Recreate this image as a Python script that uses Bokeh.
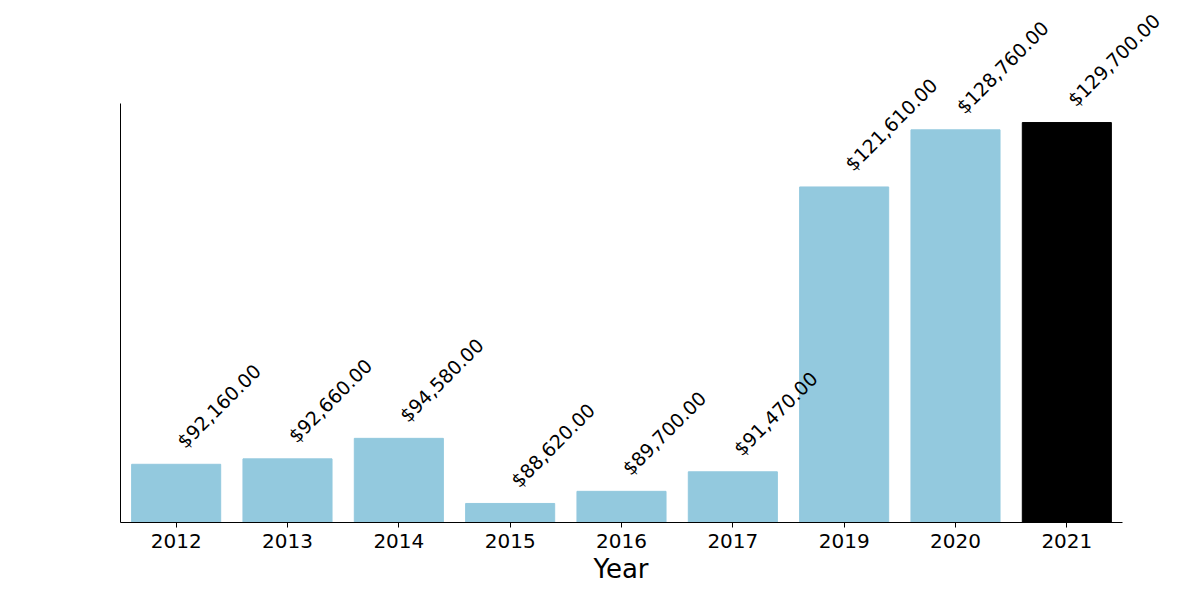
import math
from bokeh.plotting import figure
from bokeh.models import Range1d, ColumnDataSource, FixedTicker, Title
from bokeh.core.properties import value
from bokeh.embed import file_html
from bokeh.resources import INLINE

years = ["2012", "2013", "2014", "2015", "2016", "2017", "2019", "2020", "2021"]
salaries = [92160, 92660, 94580, 88620, 89700, 91470, 121610, 128760, 129700]
highlight_year = "2021"
x_title = "Year"

base_color = "#93C9DE"
hi_color = "#000000"
colors = [hi_color if y == highlight_year else base_color for y in years]
labels = ["${:,.2f}".format(v) for v in salaries]
xpos = list(range(len(years)))

# layout (pixels)
W, H = 1192, 592
LEFT, BOTTOM_BORDER, TOP_BORDER = 120, 70, 2
AXES_W, AXES_H = 1002, 419   # size of the drawn axes box

lo, hi = min(salaries), max(salaries)
span = math.log(hi / lo)
y_start = lo * math.exp(-0.05 * span)
y_axis_end = hi * math.exp(0.05 * span)
frame_h = H - BOTTOM_BORDER - TOP_BORDER
y_end = y_start * math.exp(1.1 * span * frame_h / AXES_H)

n = len(years)
x_start = -0.5
x_axis_end = n - 0.5
frame_w = W - LEFT
x_end = x_start + n * frame_w / AXES_W

src = ColumnDataSource(dict(x=xpos, top=salaries, color=colors, label=labels,
                            bottom=[1.0] * n))

p = figure(width=W, height=H, y_axis_type="log",
           x_range=Range1d(x_start, x_end), y_range=Range1d(y_start, y_end),
           output_backend="svg", toolbar_location=None,
           min_border_left=LEFT, min_border_right=0,
           min_border_top=TOP_BORDER, min_border_bottom=BOTTOM_BORDER)

p.vbar(x="x", top="top", bottom="bottom", width=0.8, color="color", source=src)

p.text(x="x", y="top", text="label", source=src, angle=math.pi / 4,
       text_align="left", text_baseline="bottom",
       x_offset=12, y_offset=-12,
       text_font=value("DejaVu Sans"), text_font_size="19px", text_color="#000000")

p.outline_line_color = None
p.xgrid.grid_line_color = None
p.ygrid.grid_line_color = None

xa = p.xaxis[0]
xa.ticker = FixedTicker(ticks=xpos)
xa.major_label_overrides = {i: y for i, y in zip(xpos, years)}
xa.bounds = (x_start, x_axis_end)
xa.major_label_text_font = "DejaVu Sans"
xa.major_label_text_font_size = "20px"
xa.major_label_text_color = "#000000"
xa.major_tick_in = 0
xa.major_tick_out = 5
xa.minor_tick_line_color = None
xa.major_label_standoff = 6
xa.axis_line_color = "#000000"
xa.major_tick_line_color = "#000000"

# x-axis title centred under the drawn axes box (not the wider frame)
p.add_layout(Title(text=x_title, align="left", offset=AXES_W / 2 - 28,
                   text_font="DejaVu Sans", text_font_size="26px",
                   text_font_style="normal", text_color="#000000",
                   standoff=2), "below")

ya = p.yaxis[0]
ya.ticker = FixedTicker(ticks=[])
ya.bounds = (y_start, y_axis_end)
ya.major_tick_line_color = None
ya.minor_tick_line_color = None
ya.axis_line_color = "#000000"

open("out.html", "w").write(file_html(p, INLINE))
